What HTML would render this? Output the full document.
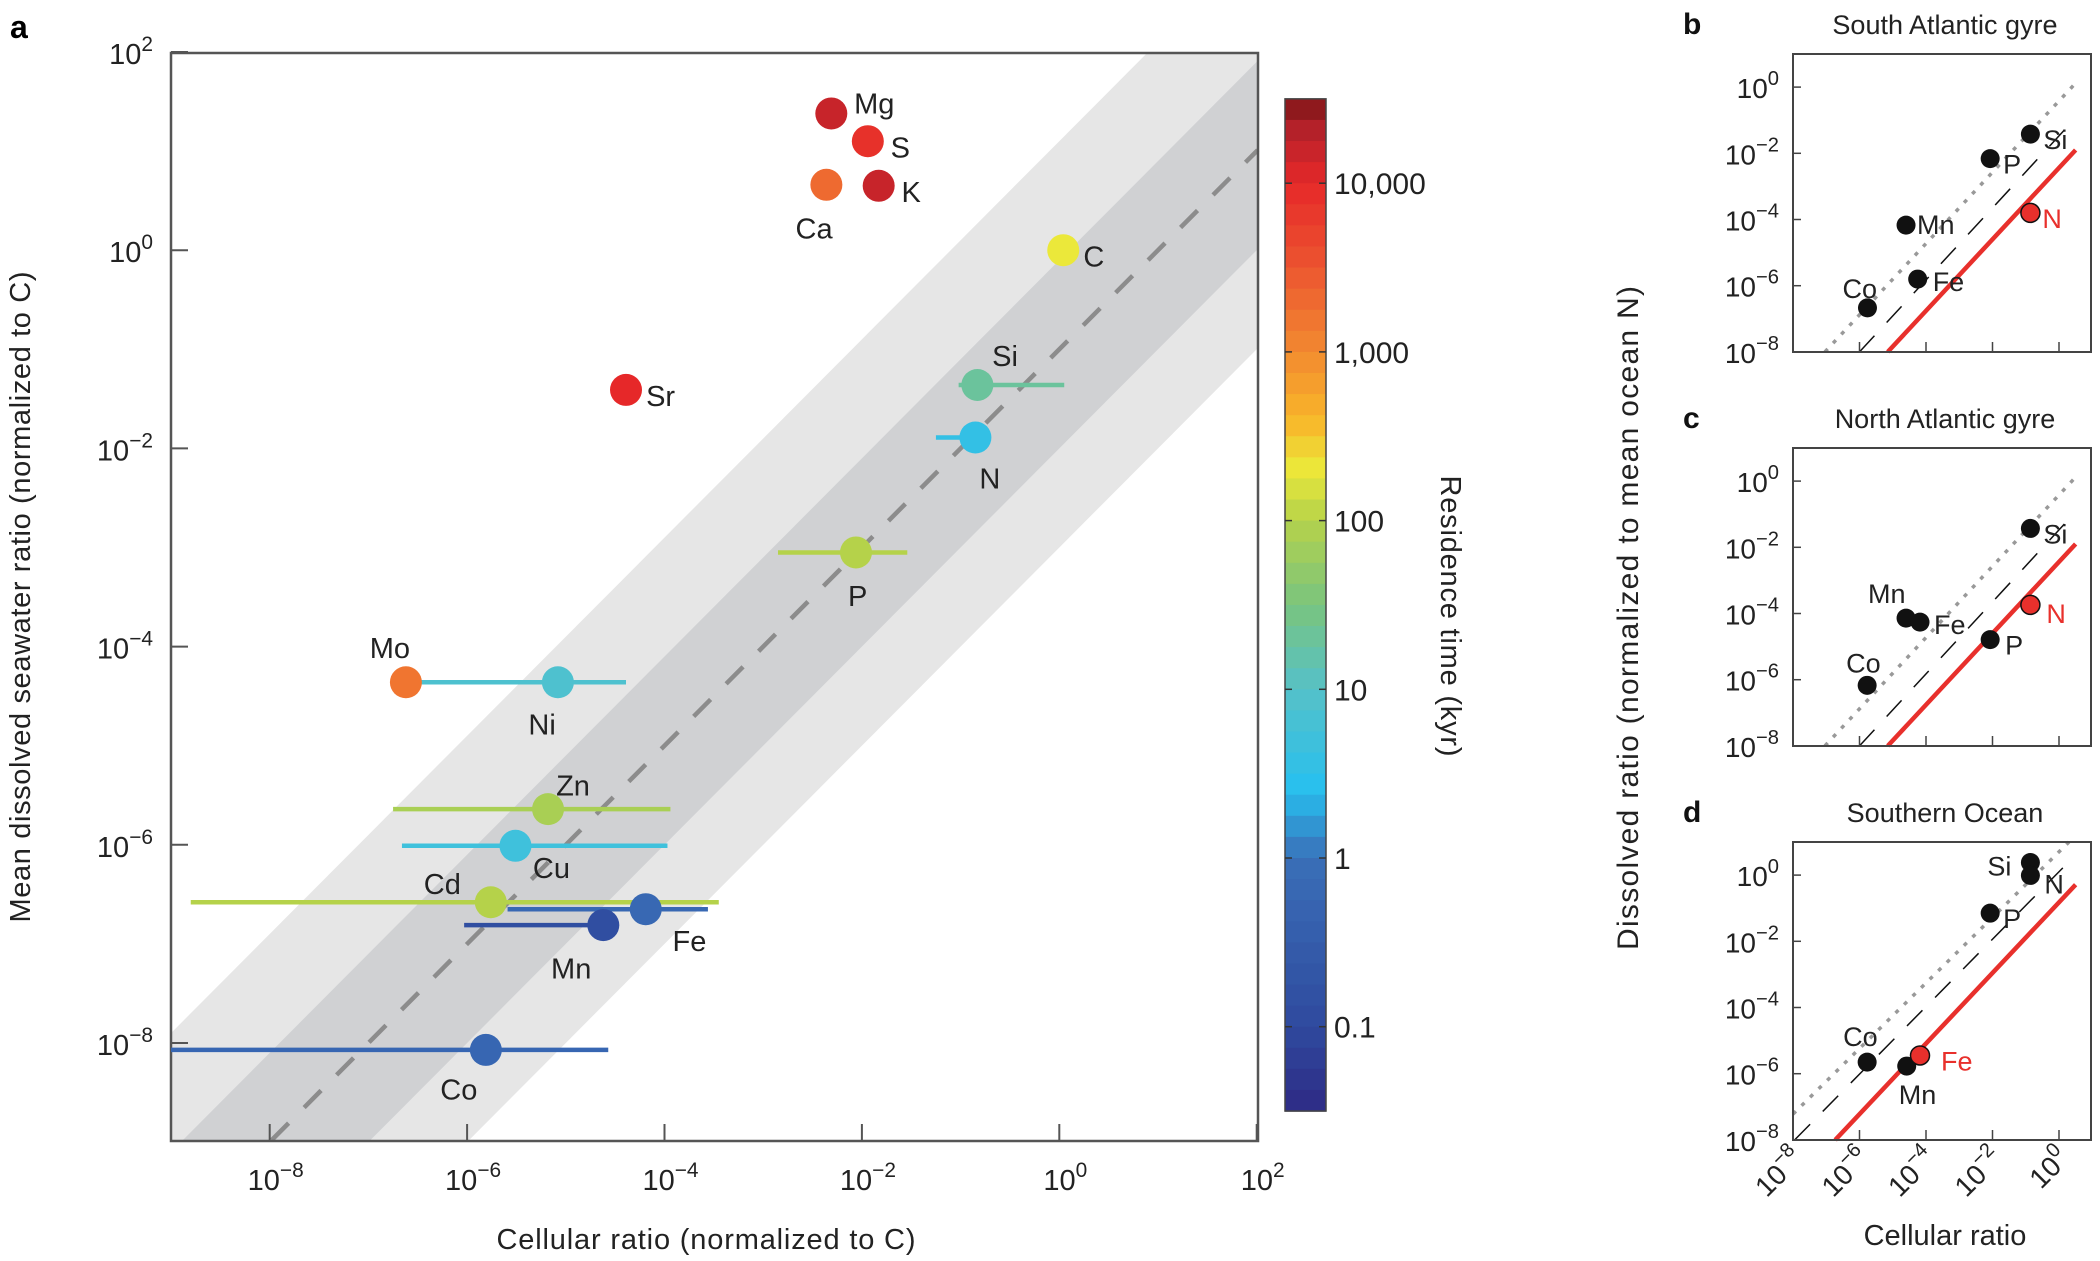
<!DOCTYPE html>
<html><head><meta charset="utf-8"><style>
html,body{margin:0;padding:0;background:#fff;width:2100px;height:1261px;overflow:hidden;}
svg{display:block;font-family:"Liberation Sans",sans-serif;}
</style></head><body>
<svg id="fig" width="2100" height="1261" viewBox="0 0 2100 1261" xmlns="http://www.w3.org/2000/svg">
<defs>
<clipPath id="mainClip"><rect x="171" y="53" width="1087" height="1088"/></clipPath>
</defs>
<g id="main"></g>
<g id="cbar"></g>
<g id="small"></g>
<text x="10" y="38" font-size="32" font-weight="bold">a</text>
<text x="0" y="0" transform="translate(30,597) rotate(-90)" text-anchor="middle" font-size="29" fill="#222" textLength="651">Mean dissolved seawater ratio (normalized to C)</text>
<text x="706" y="1249" text-anchor="middle" font-size="29" fill="#222" textLength="419">Cellular ratio (normalized to C)</text>
<text x="0" y="0" transform="translate(1441,616) rotate(90)" text-anchor="middle" font-size="29" fill="#222" textLength="281">Residence time (kyr)</text>
<text x="0" y="0" transform="translate(1638,618) rotate(-90)" text-anchor="middle" font-size="30" fill="#222" textLength="664">Dissolved ratio (normalized to mean ocean N)</text>
<text x="1945" y="1245" text-anchor="middle" font-size="29" fill="#222">Cellular ratio</text>
</svg>
<script>
// ===== main chart data (log10 values) =====
const elements = ["Mg","S","K","Ca","C","Sr","Si","N","P","Mo","Ni","Zn","Cu","Cd","Fe","Mn","Co"];
const cellularLog = [-2.31,-1.94,-1.83,-2.36,0.04,-4.39,-0.83,-0.85,-2.06,-6.62,-5.08,-5.18,-5.51,-5.76,-4.19,-4.62,-5.81];
const seawaterLog = [1.38,1.10,0.65,0.66,0.0,-1.41,-1.36,-1.89,-3.05,-4.36,-4.36,-5.64,-6.01,-6.58,-6.65,-6.81,-8.07];
const errLowLog  = [null,null,null,null,null,null,-1.02,-1.25,-2.85,null,-6.62,-6.75,-6.66,-8.8,-5.59,-6.03,-9.0];
const errHighLog = [null,null,null,null,null,null,0.05,-0.85,-1.54,null,-4.39,-3.94,-3.97,-3.45,-3.56,-4.62,-4.57];
const residenceLog = [4.2,3.9,4.2,3.3,2.3,4.0,1.3,0.55,2.0,3.2,0.9,1.9,0.7,2.0,-0.2,-0.9,-0.25];
const xTicks = [-8,-6,-4,-2,0,2];
const yTicks = [-8,-6,-4,-2,0,2];
const cbarTicks = [4,3,2,1,0,-1];
const cbarTickLabels = ["10,000","1,000","100","10","1","0.1"];
// layout-only label offsets (reference px), not data
const labelOffX = [17,17,17,-23,15,15,11,3,-6,-27,-22,6,13,-50,20,-39,-34];
const labelOffY = [0,12,12,40,12,12,-14,38,40,-18,39,-10,24,-6,31,40,37];

const svgNS = "http://www.w3.org/2000/svg";
function mk(tag, attrs, parent){const e=document.createElementNS(svgNS,tag);for(const k in attrs)e.setAttribute(k,attrs[k]);parent.appendChild(e);return e;}
const X = v => 171 + (v+9)*98.7;
const Y = v => 1043 - (v+8)*99.1;
const XMIN=-9.0, XMAX=2.01, YMIN=-8.98, YMAX=2.0;

function clipPoly(pts, xmin, xmax, ymin, ymax){
  const edges = [
    [p=>p[0]>=xmin,(a,b)=>{const t=(xmin-a[0])/(b[0]-a[0]);return [xmin,a[1]+t*(b[1]-a[1])];}],
    [p=>p[0]<=xmax,(a,b)=>{const t=(xmax-a[0])/(b[0]-a[0]);return [xmax,a[1]+t*(b[1]-a[1])];}],
    [p=>p[1]>=ymin,(a,b)=>{const t=(ymin-a[1])/(b[1]-a[1]);return [a[0]+t*(b[0]-a[0]),ymin];}],
    [p=>p[1]<=ymax,(a,b)=>{const t=(ymax-a[1])/(b[1]-a[1]);return [a[0]+t*(b[0]-a[0]),ymax];}]
  ];
  let out = pts;
  edges.forEach(([inside,inter])=>{
    const inp = out; out = [];
    for(let i=0;i<inp.length;i++){
      const cur=inp[i], prev=inp[(i+inp.length-1)%inp.length];
      if(inside(cur)){ if(!inside(prev)) out.push(inter(prev,cur)); out.push(cur); }
      else if(inside(prev)) out.push(inter(prev,cur));
    }
  });
  return out;
}

// colormap
const cStops = [[-1.5,[46,42,133]],[-1,[47,74,158]],[0,[58,111,184]],[0.4,[39,192,239]],[1,[86,193,200]],[1.5,[121,196,126]],[2,[181,210,74]],[2.3,[235,232,58]],[2.6,[249,181,42]],[3,[242,138,48]],[3.5,[236,85,48]],[4,[230,40,41]],[4.3,[184,34,42]],[4.5,[125,21,23]]];
function cmap(v){if(v<=cStops[0][0])return 'rgb('+cStops[0][1]+')';for(let i=1;i<cStops.length;i++){if(v<=cStops[i][0]){const a=cStops[i-1],b=cStops[i],t=(v-a[0])/(b[0]-a[0]);return 'rgb('+a[1].map((c,j)=>Math.round(c+(b[1][j]-c)*t)).join(',')+')';}}return 'rgb('+cStops[cStops.length-1][1]+')';}

const main = document.getElementById('main');
const bands = mk('g',{},main);
function band(lo,hi,fill,name){
  const xa=-12,xb=5;
  const poly = clipPoly([[xa,xa+lo],[xb,xb+lo],[xb,xb+hi],[xa,xa+hi]],XMIN,XMAX,YMIN,YMAX);
  const b = mk('polygon',{points:poly.map(p=>X(p[0])+','+Y(p[1])).join(' '),fill:fill},bands);
  
  
}
band(-3,1.1,'#e6e6e6','outer-band');
band(-2,-0.1,'#d0d1d3','inner-band');
const dx0 = Math.max(XMIN, YMIN+1), dx1 = Math.min(XMAX, YMAX+1);
const dl = mk('line',{x1:X(dx0),y1:Y(dx0-1),x2:X(dx1),y2:Y(dx1-1),stroke:'#8c8c8c','stroke-width':4.5,'stroke-dasharray':'24 22'},bands);



// axes box
const box = mk('rect',{x:171,y:53,width:1087,height:1088,fill:'none',stroke:'#555','stroke-width':2.5},main);


function sup(t, base, exp){t.textContent='';const a=document.createElementNS(svgNS,'tspan');a.textContent=base;t.appendChild(a);const b=document.createElementNS(svgNS,'tspan');b.setAttribute('dy','-13');b.setAttribute('font-size','0.72em');b.textContent=exp;t.appendChild(b);}
xTicks.forEach(v=>{
  const tk = mk('line',{x1:X(v),y1:1141,x2:X(v),y2:1124,stroke:'#555','stroke-width':2},main);
  
  
  const t = mk('text',{x:X(v)+6,y:1190,'text-anchor':'middle','font-size':29,fill:'#222'},main);
  sup(t,'10',v<0?'\u2212'+(-v):String(v));
  
  
});
yTicks.forEach(v=>{
  const tk = mk('line',{x1:171,y1:Y(v),x2:188,y2:Y(v),stroke:'#555','stroke-width':2},main);
  
  
  const t = mk('text',{x:153,y:Y(v)+12,'text-anchor':'end','font-size':29,fill:'#222'},main);
  sup(t,'10',v<0?'\u2212'+(-v):String(v));
  
  
});
const marks = mk('g',{'clip-path':'url(#mainClip)'},main);
elements.forEach((el,i)=>{
  const col = cmap(residenceLog[i]);
  if(errLowLog[i]!==null){
    const e = mk('line',{x1:X(Math.max(XMIN,errLowLog[i])),y1:Y(seawaterLog[i]),x2:X(Math.min(XMAX,errHighLog[i])),y2:Y(seawaterLog[i]),stroke:col,'stroke-width':4.5},marks);
    
    
  }
});
elements.forEach((el,i)=>{
  const col = cmap(residenceLog[i]);
  const c = mk('circle',{cx:X(cellularLog[i]),cy:Y(seawaterLog[i]),r:16,fill:col},main);
  
  
  const t = mk('text',{x:X(cellularLog[i])+labelOffX[i]*1.34,y:Y(seawaterLog[i])+labelOffY[i]*1.34,'font-size':29,fill:'#222'},main);
  t.textContent = el;
  
  
});

// colorbar
const cb = document.getElementById('cbar');
const CB = v => 858 - v*168.7;
for(let k=0;k<48;k++){
  const v0 = 4.5 - k*0.125, v1 = v0-0.125;
  const r = mk('rect',{x:1285,y:CB(v0),width:41,height:CB(v1)-CB(v0)+0.6,fill:cmap((v0+v1)/2)},cb);
  
  
}
const cbf = mk('rect',{x:1285,y:CB(4.5),width:41,height:CB(-1.5)-CB(4.5),fill:'none',stroke:'#444','stroke-width':1.5},cb);


cbarTicks.forEach((v,i)=>{
  mk('line',{x1:1285,y1:CB(v),x2:1292,y2:CB(v),stroke:'#333','stroke-width':1.5},cb);
  mk('line',{x1:1319,y1:CB(v),x2:1326,y2:CB(v),stroke:'#333','stroke-width':1.5},cb);
  const t = mk('text',{x:1334,y:CB(v)+11,'font-size':30,fill:'#222'},cb);
  t.textContent = cbarTickLabels[i];
  
  
});

// ===== small panels data =====
const panelTitles = ["South Atlantic gyre","North Atlantic gyre","Southern Ocean"];
const panelLetters = ["b","c","d"];
const panelElems = [["Co","Mn","Fe","P","Si","N"],["Co","Mn","Fe","P","Si","N"],["Co","Mn","Fe","P","Si","N"]];
const panelCell = [[-5.76,-4.6,-4.25,-2.07,-0.86,-0.86],[-5.77,-4.6,-4.18,-2.07,-0.86,-0.86],[-5.77,-4.58,-4.18,-2.07,-0.86,-0.86]];
const panelDiss = [[-6.67,-4.17,-5.8,-2.16,-1.42,-3.8],[-6.17,-4.14,-4.26,-4.79,-1.43,-3.74],[-5.65,-5.77,-5.45,-1.15,0.38,-0.01]];
const panelRed = [[0,0,0,0,0,1],[0,0,0,0,0,1],[0,0,1,0,0,0]];
const panelLineRed = [[-5.15,-8,0.5,-1.9],[-5.15,-8,0.5,-1.9],[-6.73,-8,0.5,-0.29]];
const panelLineDash = [[-6.0,-8,0.5,-0.93],[-6.0,-8,0.5,-0.93],[-7.95,-8,0.45,0.56]];
const panelLineDot = [[-7.04,-8,0.5,0.12],[-7.04,-8,0.5,0.12],[-8,-7.22,0.3,1.0]];
const sxTicks = [-8,-6,-4,-2,0];
const syTicks = [0,-2,-4,-6,-8];
// layout-only label offsets (px)
const sLabDx = [[-25,11,15,13,13,12],[-21,-38,14,15,13,16],[-24,-8,21,13,-43,14]];
const sLabDy = [[-10,9,12,15,15,15],[-13,-15,12,15,15,18],[-16,38,15,15,13,18]];

const small = document.getElementById('small');
const tops = [54,448,842];
const SX = v => 1793 + (v+8)*33.25;
panelTitles.forEach((title,p)=>{
  const top = tops[p];
  const SY = v => top + (1-v)*33.1;
  const g = mk('g',{},small);
  
  
  const L = mk('text',{x:1683,y:top-20,'font-size':30,'font-weight':'bold',fill:'#111'},g);
  L.textContent = panelLetters[p];
  
  
  const T = mk('text',{x:1945,y:top-20,'text-anchor':'middle','font-size':27,fill:'#222'},g);
  T.textContent = title;
  
  
  const lg = mk('g',{},g);
  const dt = panelLineDot[p], ds = panelLineDash[p], rd = panelLineRed[p];
  const l1 = mk('line',{x1:SX(dt[0]),y1:SY(dt[1]),x2:SX(dt[2]),y2:SY(dt[3]),stroke:'#999','stroke-width':3.5,'stroke-dasharray':'4 8'},lg);
  
  
  const l2 = mk('line',{x1:SX(ds[0]),y1:SY(ds[1]),x2:SX(ds[2]),y2:SY(ds[3]),stroke:'#111','stroke-width':1.5,'stroke-dasharray':'22 18'},lg);
  
  
  const l3 = mk('line',{x1:SX(rd[0]),y1:SY(rd[1]),x2:SX(rd[2]),y2:SY(rd[3]),stroke:'#e8302c','stroke-width':4.5},lg);
  
  
  const fr = mk('rect',{x:1793,y:top,width:298,height:298,fill:'none',stroke:'#444','stroke-width':2},g);
  
  
  syTicks.forEach(v=>{
    mk('line',{x1:1793,y1:SY(v),x2:1801,y2:SY(v),stroke:'#444','stroke-width':1.5},g);
    const t = mk('text',{x:1779,y:SY(v)+11,'text-anchor':'end','font-size':28,fill:'#222'},g);
    sup(t,'10',v<0?'\u2212'+(-v):String(v));
    
    
  });
  sxTicks.forEach(v=>{
    if(v>-8) mk('line',{x1:SX(v),y1:top+298,x2:SX(v),y2:top+288,stroke:'#444','stroke-width':1.5},g);
    if(p===2){
      const t = mk('text',{x:0,y:0,'text-anchor':'end','font-size':28,fill:'#222',transform:`translate(${SX(v)+12},${top+318}) rotate(-45)`},g);
      sup(t,'10',v<0?'\u2212'+(-v):String(v));
      
      
    }
  });
  panelElems[p].forEach((el,i)=>{
    const red = panelRed[p][i]===1;
    const cx = SX(panelCell[p][i]), cy = SY(panelDiss[p][i]);
    const c = mk('circle',{cx:cx,cy:cy,r:9.5,fill:red?'#e8302c':'#111',stroke:'#111','stroke-width':red?1.5:0},g);
    
    
    const t = mk('text',{x:cx+sLabDx[p][i],y:cy+sLabDy[p][i],'font-size':27,fill:red?'#e8302c':'#222'},g);
    t.textContent = el;
    
    
  });
});
</script>
</body></html>
